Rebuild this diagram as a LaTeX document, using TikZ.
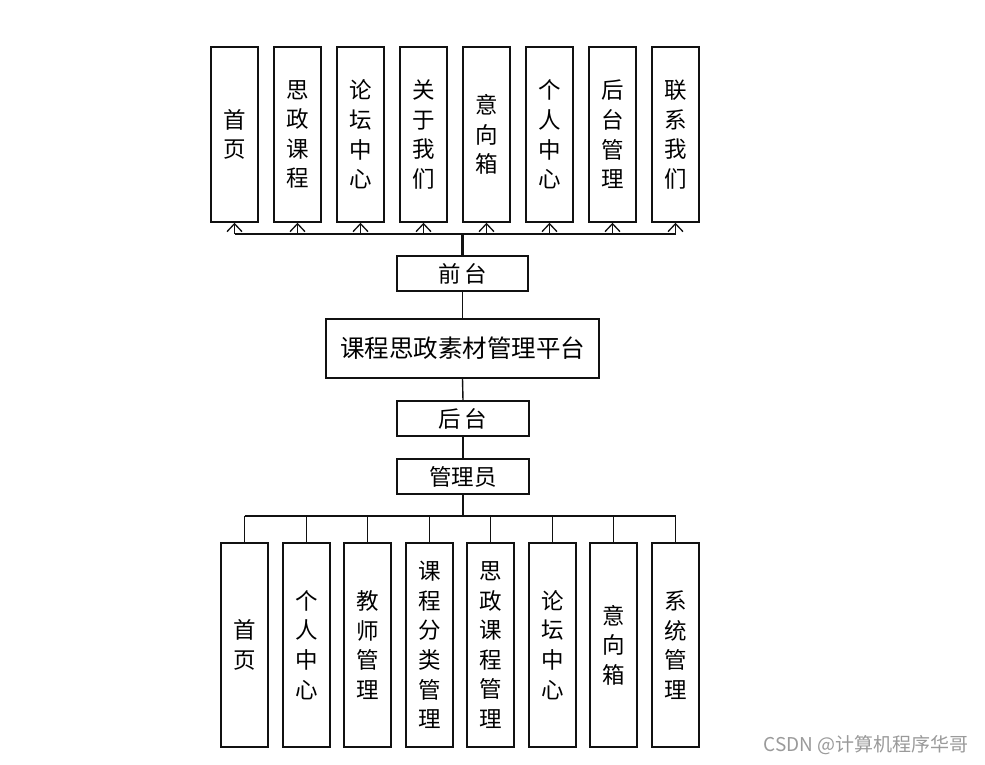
\documentclass[tikz,border=0pt]{standalone}
\usepackage{fontspec,xcolor,tikz}
\usetikzlibrary{arrows.meta}
\newfontfamily\cjk{Noto Sans CJK SC}
\definecolor{ink}{HTML}{111111}
\definecolor{wmark}{HTML}{9A9A9A}
\newcommand{\boxfont}{\cjk\fontsize{22.5}{29.6}\selectfont}
\newcommand{\titlefont}{\cjk\fontsize{24.5}{28}\selectfont}

\begin{document}
\begin{tikzpicture}[x=1pt,y=-1pt,
  tallbox/.style={draw=ink,line width=1.5pt,minimum width=47pt,inner sep=0,align=center,font=\boxfont},
  widebox/.style={draw=ink,line width=1.5pt,minimum width=132pt,minimum height=35pt,inner sep=0,font=\boxfont},
  wire/.style={ink,line width=1.4pt},
  upwire/.style={wire,-{Straight Barb[length=8pt,width=15pt,line width=1.3pt]}}]
\useasboundingbox[fill=white] (0,0) rectangle (985,765);
% front end
\node[tallbox,minimum height=175pt] (f1) at (234.5,134.5) {首\\页};
\node[tallbox,minimum height=175pt] (f2) at (297.5,134.5) {思\\政\\课\\程};
\node[tallbox,minimum height=175pt] (f3) at (360.5,134.5) {论\\坛\\中\\心};
\node[tallbox,minimum height=175pt] (f4) at (423.5,134.5) {关\\于\\我\\们};
\node[tallbox,minimum height=175pt] (f5) at (486.5,134.5) {意\\向\\箱};
\node[tallbox,minimum height=175pt] (f6) at (549.5,134.5) {个\\人\\中\\心};
\node[tallbox,minimum height=175pt] (f7) at (612.5,134.5) {后\\台\\管\\理};
\node[tallbox,minimum height=175pt] (f8) at (675.5,134.5) {联\\系\\我\\们};
\node[widebox,minimum width=131pt] (qiantai) at (462.5,273.5) {前\,台};
\coordinate (topbus) at (462.5,234);
% middle
\node[draw=ink,line width=1.5pt,minimum width=273pt,minimum height=59pt,inner sep=0,font=\titlefont] (pingtai) at (462.5,348.5) {课程思政素材管理平台};
\node[widebox] (houtai) at (463,418.5) {后\,台};
\node[widebox] (admin) at (463,476.5) {管理员};
\coordinate (botbus) at (463,516);
% back end
\node[tallbox,minimum height=204pt] (b1) at (244.5,645) {首\\页};
\node[tallbox,minimum height=204pt] (b2) at (306.5,645) {个\\人\\中\\心};
\node[tallbox,minimum height=204pt] (b3) at (367.5,645) {教\\师\\管\\理};
\node[tallbox,minimum height=204pt] (b4) at (429.5,645) {课\\程\\分\\类\\管\\理};
\node[tallbox,minimum height=204pt] (b5) at (490.5,645) {思\\政\\课\\程\\管\\理};
\node[tallbox,minimum height=204pt] (b6) at (552.5,645) {论\\坛\\中\\心};
\node[tallbox,minimum height=204pt] (b7) at (613.5,645) {意\\向\\箱};
\node[tallbox,minimum height=204pt] (b8) at (675.5,645) {系\\统\\管\\理};
\node[anchor=east,inner sep=0,text=wmark,font=\cjk\fontsize{19}{22}\selectfont] (mark) at (969,745) {CSDN @计算机程序华哥};

\draw[wire,line width=2.4pt] (qiantai.north) -- (topbus);
\draw[wire] (f1.south |- topbus) -- (f8.south |- topbus);
\foreach \n in {f1,f2,f3,f4,f5,f6,f7,f8}
  \draw[upwire] (\n.south |- topbus) -- (\n.south);
\draw[wire] (qiantai.south) -- (pingtai.north);
\draw[wire] (pingtai.south) -- (houtai.north);
\draw[wire] (houtai.south) -- (admin.north);
\draw[wire,line width=1.8pt] (admin.south) -- (botbus);
\draw[wire] (b1.north |- botbus) -- (b8.north |- botbus);
\foreach \n in {b1,b2,b3,b4,b5,b6,b7,b8}
  \draw[wire] (\n.north |- botbus) -- (\n.north);
\end{tikzpicture}
\end{document}
